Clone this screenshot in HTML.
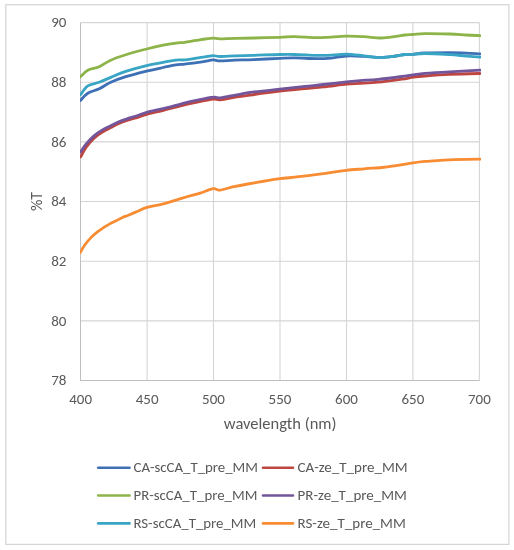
<!DOCTYPE html>
<html><head><meta charset="utf-8"><style>
html,body{margin:0;padding:0;background:#fff;width:514px;height:550px;overflow:hidden}
svg{display:block}
text{font-family:"Carlito","Liberation Sans",sans-serif;fill:#595959}
</style></head><body>
<svg width="514" height="550" viewBox="0 0 514 550">
<rect x="0" y="0" width="514" height="550" fill="#fff"/>
<rect x="5.8" y="4.7" width="503.1" height="539.7" fill="#fff" stroke="#d4d4d4" stroke-width="1.2"/>
<g stroke="#d5d5d5" stroke-width="1.1" fill="none">
<line x1="80.6" y1="22.6" x2="479.4" y2="22.6"/>
<line x1="80.6" y1="82.2" x2="479.4" y2="82.2"/>
<line x1="80.6" y1="141.9" x2="479.4" y2="141.9"/>
<line x1="80.6" y1="201.5" x2="479.4" y2="201.5"/>
<line x1="80.6" y1="261.2" x2="479.4" y2="261.2"/>
<line x1="80.6" y1="320.9" x2="479.4" y2="320.9"/>
<line x1="147.1" y1="22.6" x2="147.1" y2="380.5"/>
<line x1="213.5" y1="22.6" x2="213.5" y2="380.5"/>
<line x1="280.0" y1="22.6" x2="280.0" y2="380.5"/>
<line x1="346.5" y1="22.6" x2="346.5" y2="380.5"/>
<line x1="412.9" y1="22.6" x2="412.9" y2="380.5"/>
<line x1="479.4" y1="22.6" x2="479.4" y2="380.5"/>
</g>
<g stroke="#bfbfbf" stroke-width="1" fill="none">
<line x1="80.5" y1="22.6" x2="80.5" y2="380.5"/>
<line x1="80" y1="380.5" x2="479.4" y2="380.5"/>
</g>
<g font-size="15">
<text x="66.5" y="27.4" text-anchor="end" textLength="15.22" lengthAdjust="spacingAndGlyphs">90</text>
<text x="66.5" y="87.0" text-anchor="end" textLength="15.22" lengthAdjust="spacingAndGlyphs">88</text>
<text x="66.5" y="146.7" text-anchor="end" textLength="15.22" lengthAdjust="spacingAndGlyphs">86</text>
<text x="66.5" y="206.3" text-anchor="end" textLength="15.22" lengthAdjust="spacingAndGlyphs">84</text>
<text x="66.5" y="265.9" text-anchor="end" textLength="15.22" lengthAdjust="spacingAndGlyphs">82</text>
<text x="66.5" y="325.6" text-anchor="end" textLength="15.22" lengthAdjust="spacingAndGlyphs">80</text>
<text x="66.5" y="385.2" text-anchor="end" textLength="15.22" lengthAdjust="spacingAndGlyphs">78</text>
<text x="80.6" y="403.9" text-anchor="middle" textLength="22.81" lengthAdjust="spacingAndGlyphs">400</text>
<text x="147.1" y="403.9" text-anchor="middle" textLength="22.81" lengthAdjust="spacingAndGlyphs">450</text>
<text x="213.5" y="403.9" text-anchor="middle" textLength="22.81" lengthAdjust="spacingAndGlyphs">500</text>
<text x="280.0" y="403.9" text-anchor="middle" textLength="22.81" lengthAdjust="spacingAndGlyphs">550</text>
<text x="346.5" y="403.9" text-anchor="middle" textLength="22.81" lengthAdjust="spacingAndGlyphs">600</text>
<text x="412.9" y="403.9" text-anchor="middle" textLength="22.81" lengthAdjust="spacingAndGlyphs">650</text>
<text x="479.4" y="403.9" text-anchor="middle" textLength="22.81" lengthAdjust="spacingAndGlyphs">700</text>
</g>
<text x="280.2" y="429.4" font-size="16.5" text-anchor="middle" textLength="112.72" lengthAdjust="spacingAndGlyphs">wavelength (nm)</text>
<text transform="translate(41.9,201.5) rotate(-90)" font-size="15.9" text-anchor="middle" textLength="19.11" lengthAdjust="spacingAndGlyphs">%T</text>
<defs><clipPath id="pc"><rect x="80" y="0" width="401" height="400"/></clipPath></defs>
<g fill="none" stroke-width="2.8" stroke-linecap="round" stroke-linejoin="round" clip-path="url(#pc)">
<path d="M80.5 100.4 C81.7 99.2 84.7 95.1 87.8 93.2 C90.9 91.3 95.4 90.6 99.2 88.8 C103.0 87.0 106.4 84.3 110.7 82.3 C115.0 80.3 119.0 78.8 125.0 76.9 C131.0 75.0 140.2 72.7 146.6 71.1 C153.0 69.5 158.3 68.5 163.2 67.5 C168.1 66.5 172.3 65.5 175.9 64.9 C179.5 64.3 181.4 64.5 184.8 64.1 C188.2 63.7 193.1 63.2 196.5 62.7 C199.9 62.2 202.2 61.8 205.0 61.3 C207.8 60.8 210.8 60.0 213.3 59.9 C215.8 59.8 216.4 60.9 220.0 60.9 C223.6 60.9 229.3 60.3 235.0 60.1 C240.7 59.9 246.5 59.9 254.0 59.6 C261.5 59.3 273.0 58.6 279.8 58.3 C286.6 58.0 288.9 57.8 294.8 57.9 C300.8 58.0 309.9 58.5 315.5 58.6 C321.1 58.7 323.1 58.7 328.2 58.3 C333.3 57.9 340.4 56.3 346.4 56.0 C352.4 55.7 358.2 56.1 364.0 56.4 C369.8 56.7 376.0 57.7 381.3 57.6 C386.6 57.5 392.0 56.5 395.9 56.0 C399.8 55.5 402.0 54.8 404.8 54.5 C407.6 54.2 409.6 54.5 412.9 54.3 C416.2 54.0 418.7 53.3 424.8 53.0 C430.9 52.7 442.7 52.6 449.6 52.6 C456.5 52.6 460.9 52.9 466.0 53.1 C471.1 53.3 477.7 53.7 480.0 53.8" stroke="#3E70B6"/>
<path d="M80.5 157.0 C81.5 155.4 83.9 150.4 86.2 147.2 C88.5 144.0 91.6 140.4 94.3 137.9 C97.0 135.4 99.8 133.7 102.5 132.0 C105.2 130.3 108.0 129.0 110.7 127.6 C113.4 126.2 116.2 124.7 118.9 123.5 C121.6 122.3 123.9 121.5 127.0 120.5 C130.1 119.5 134.4 118.3 137.7 117.3 C141.0 116.3 142.3 115.6 146.7 114.4 C151.1 113.2 158.4 111.6 164.2 110.1 C170.0 108.6 176.6 106.8 181.7 105.6 C186.8 104.4 189.7 103.8 195.0 102.7 C200.3 101.6 209.1 99.7 213.3 99.2 C217.5 98.7 216.4 100.2 220.3 99.8 C224.2 99.4 231.8 97.7 236.7 96.9 C241.6 96.1 242.8 96.0 250.0 95.1 C257.2 94.1 270.5 92.3 279.7 91.2 C288.9 90.1 297.7 89.3 305.0 88.6 C312.3 87.9 316.4 87.6 323.3 86.9 C330.2 86.2 340.4 84.8 346.5 84.2 C352.6 83.6 354.7 83.7 360.0 83.4 C365.3 83.1 371.4 82.9 378.3 82.2 C385.2 81.5 395.9 80.0 401.7 79.2 C407.5 78.4 409.5 77.7 413.4 77.2 C417.2 76.7 418.8 76.5 424.8 76.0 C430.8 75.5 440.4 74.7 449.6 74.3 C458.8 73.9 474.9 73.6 480.0 73.5" stroke="#BD4640"/>
<path d="M80.5 76.8 C81.7 75.7 84.7 71.9 87.8 70.2 C90.9 68.5 95.4 68.4 99.2 66.7 C103.0 65.0 106.4 62.1 110.7 60.2 C115.0 58.2 119.0 56.9 125.0 55.0 C131.0 53.1 140.2 50.6 146.6 49.0 C153.0 47.4 158.3 46.2 163.2 45.2 C168.1 44.2 172.3 43.6 175.9 43.1 C179.5 42.6 181.4 42.8 184.8 42.3 C188.2 41.8 193.1 40.9 196.5 40.4 C199.9 39.9 202.2 39.4 205.0 39.0 C207.8 38.6 210.8 38.1 213.3 38.1 C215.8 38.1 216.4 38.8 220.0 38.8 C223.6 38.8 229.3 38.5 235.0 38.4 C240.7 38.3 246.5 38.2 254.0 38.0 C261.5 37.8 273.0 37.5 279.8 37.3 C286.6 37.1 288.9 36.6 294.8 36.7 C300.8 36.8 309.9 37.5 315.5 37.6 C321.1 37.7 323.1 37.5 328.2 37.3 C333.3 37.0 340.4 36.2 346.4 36.1 C352.4 36.0 358.2 36.4 364.0 36.7 C369.8 37.0 376.0 38.1 381.3 38.0 C386.6 37.9 392.0 36.8 395.9 36.3 C399.8 35.8 402.0 35.3 404.8 35.0 C407.6 34.7 409.6 34.7 412.9 34.5 C416.2 34.3 418.7 33.7 424.8 33.6 C430.9 33.5 442.7 33.8 449.6 34.0 C456.5 34.2 460.9 34.7 466.0 35.0 C471.1 35.3 477.7 35.5 480.0 35.6" stroke="#8CB448"/>
<path d="M80.5 152.0 C81.5 150.6 83.9 146.5 86.2 143.8 C88.5 141.1 91.6 137.9 94.3 135.6 C97.0 133.3 99.8 131.5 102.5 129.9 C105.2 128.3 108.0 127.2 110.7 125.8 C113.4 124.4 116.2 123.0 118.9 121.8 C121.6 120.6 123.9 119.8 127.0 118.8 C130.1 117.8 134.4 116.6 137.7 115.5 C141.0 114.4 142.3 113.5 146.7 112.3 C151.1 111.1 158.4 109.8 164.2 108.4 C170.0 107.0 176.6 105.1 181.7 103.8 C186.8 102.5 189.7 101.7 195.0 100.6 C200.3 99.5 209.1 97.5 213.3 97.1 C217.5 96.6 216.4 98.3 220.3 97.9 C224.2 97.5 231.8 95.7 236.7 94.8 C241.6 93.9 242.8 93.4 250.0 92.4 C257.2 91.5 270.5 90.1 279.7 89.1 C288.9 88.1 297.7 87.2 305.0 86.4 C312.3 85.6 316.4 85.3 323.3 84.5 C330.2 83.7 340.4 82.5 346.5 81.8 C352.6 81.1 354.7 81.0 360.0 80.6 C365.3 80.2 371.4 80.1 378.3 79.4 C385.2 78.7 395.9 77.3 401.7 76.5 C407.5 75.7 409.5 75.3 413.4 74.8 C417.2 74.3 418.8 73.9 424.8 73.4 C430.8 72.9 440.4 72.3 449.6 71.8 C458.8 71.2 474.9 70.4 480.0 70.1" stroke="#73559B"/>
<path d="M80.5 94.7 C81.7 93.2 84.7 87.9 87.8 85.8 C90.9 83.7 95.4 83.7 99.2 82.3 C103.0 80.9 106.3 79.2 110.7 77.4 C115.1 75.6 119.7 73.4 125.7 71.4 C131.7 69.4 140.3 67.1 146.6 65.6 C152.8 64.1 158.3 63.3 163.2 62.4 C168.1 61.5 172.3 60.5 175.9 60.1 C179.5 59.7 181.4 60.2 184.8 59.9 C188.2 59.6 193.1 58.6 196.5 58.1 C199.9 57.6 202.2 57.2 205.0 56.8 C207.8 56.4 210.8 55.6 213.3 55.6 C215.8 55.6 216.4 56.5 220.0 56.5 C223.6 56.5 229.3 56.1 235.0 55.9 C240.7 55.7 246.5 55.5 254.0 55.3 C261.5 55.1 273.0 54.6 279.8 54.5 C286.6 54.4 288.9 54.4 294.8 54.5 C300.8 54.6 309.9 55.3 315.5 55.4 C321.1 55.5 323.1 55.5 328.2 55.3 C333.3 55.1 340.4 54.0 346.4 54.1 C352.4 54.2 358.2 55.2 364.0 55.8 C369.8 56.4 376.0 57.6 381.3 57.6 C386.6 57.6 392.0 56.5 395.9 56.0 C399.8 55.5 402.0 54.8 404.8 54.5 C407.6 54.2 409.6 54.5 412.9 54.3 C416.2 54.1 418.7 53.5 424.8 53.5 C430.9 53.5 442.7 54.2 449.6 54.6 C456.5 55.0 460.9 55.6 466.0 56.0 C471.1 56.4 477.7 56.9 480.0 57.1" stroke="#39A5C5"/>
<path d="M80.3 252.5 C81.0 251.3 82.7 247.9 84.4 245.5 C86.1 243.1 88.6 240.1 90.7 237.9 C92.8 235.7 95.0 233.9 97.1 232.2 C99.2 230.5 101.4 229.1 103.5 227.7 C105.6 226.3 107.7 225.1 109.8 223.9 C111.9 222.7 114.1 221.8 116.2 220.7 C118.3 219.6 120.4 218.4 122.5 217.5 C124.6 216.6 126.4 216.1 128.9 215.0 C131.5 213.9 134.8 212.5 137.8 211.2 C140.8 209.9 142.9 208.5 147.0 207.3 C151.1 206.1 157.4 205.4 162.2 204.2 C167.0 203.0 171.3 201.5 175.9 200.1 C180.5 198.7 185.5 197.2 189.5 196.0 C193.5 194.8 196.0 194.4 200.0 193.2 C204.0 192.0 210.0 189.2 213.3 188.7 C216.6 188.2 216.2 190.4 219.7 190.1 C223.1 189.8 229.3 187.7 234.0 186.7 C238.7 185.7 242.5 184.9 247.7 184.0 C252.9 183.1 259.6 181.9 265.0 181.0 C270.4 180.1 274.3 179.4 280.0 178.7 C285.7 178.0 292.4 177.5 299.0 176.7 C305.6 176.0 313.5 175.0 319.5 174.2 C325.5 173.4 330.5 172.6 335.0 171.9 C339.5 171.2 341.8 170.8 346.6 170.3 C351.4 169.8 358.1 169.3 364.0 168.8 C369.9 168.3 376.7 168.0 382.0 167.5 C387.3 167.0 390.8 166.4 396.0 165.6 C401.2 164.8 408.2 163.5 413.0 162.8 C417.8 162.1 420.5 161.8 425.0 161.4 C429.5 161.0 435.0 160.7 440.0 160.4 C445.0 160.1 448.3 159.9 455.0 159.7 C461.7 159.5 475.8 159.3 480.0 159.2" stroke="#F78C32"/>
</g>
<g fill="none" stroke-width="2.6" stroke-linecap="round">
<line x1="98.2" y1="467.7" x2="129.5" y2="467.7" stroke="#3E70B6"/>
<line x1="263.0" y1="467.7" x2="293.0" y2="467.7" stroke="#BD4640"/>
<line x1="98.2" y1="495.5" x2="129.5" y2="495.5" stroke="#8CB448"/>
<line x1="263.0" y1="495.5" x2="293.0" y2="495.5" stroke="#73559B"/>
<line x1="98.2" y1="523.4" x2="129.5" y2="523.4" stroke="#39A5C5"/>
<line x1="263.0" y1="523.4" x2="293.0" y2="523.4" stroke="#F78C32"/>
</g>
<g font-size="14.85">
<text x="133.5" y="472.3" textLength="124.48" lengthAdjust="spacingAndGlyphs">CA-scCA_T_pre_MM</text>
<text x="297.6" y="472.3" font-size="15" textLength="109.97" lengthAdjust="spacingAndGlyphs">CA-ze_T_pre_MM</text>
<text x="133.5" y="500.1" textLength="123.83" lengthAdjust="spacingAndGlyphs">PR-scCA_T_pre_MM</text>
<text x="297.6" y="500.1" font-size="15" textLength="109.30" lengthAdjust="spacingAndGlyphs">PR-ze_T_pre_MM</text>
<text x="133.5" y="528.0" textLength="122.72" lengthAdjust="spacingAndGlyphs">RS-scCA_T_pre_MM</text>
<text x="297.6" y="528.0" font-size="15" textLength="108.17" lengthAdjust="spacingAndGlyphs">RS-ze_T_pre_MM</text>
</g>
</svg>
</body></html>
